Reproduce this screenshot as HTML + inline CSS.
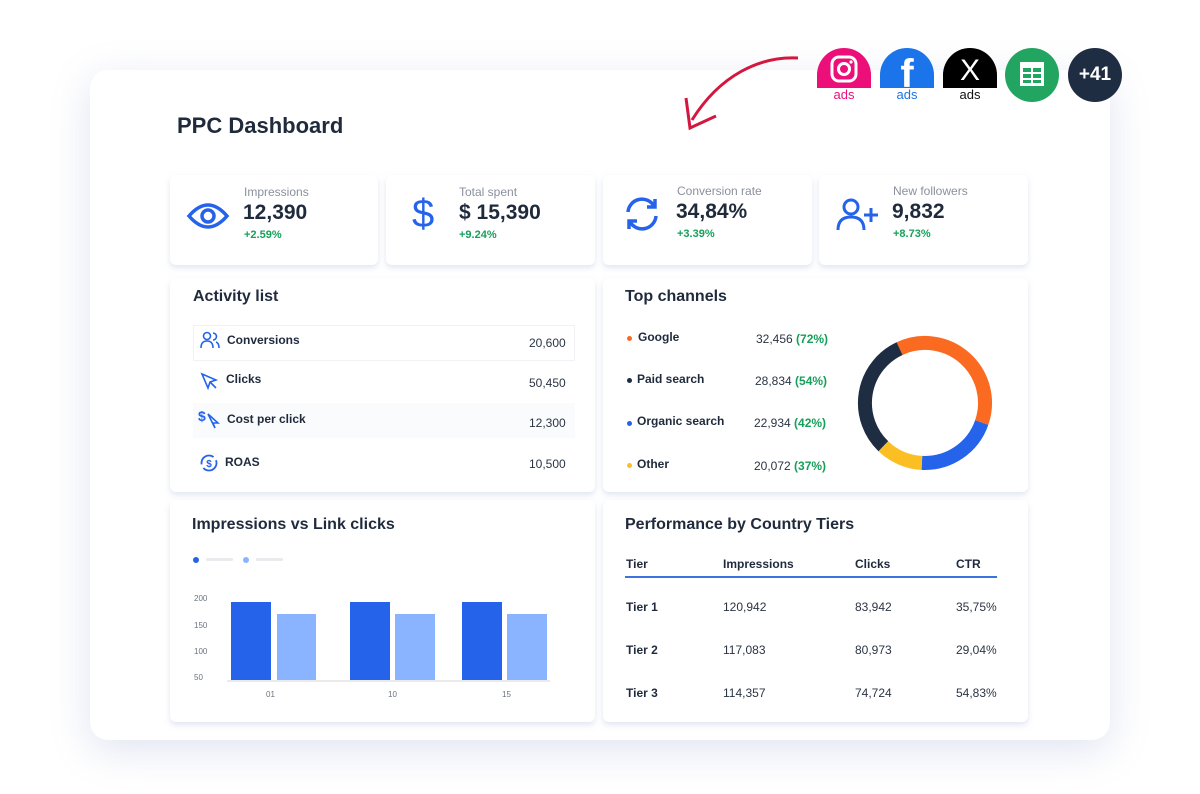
<!DOCTYPE html>
<html><head><meta charset="utf-8"><style>
*{margin:0;padding:0;box-sizing:border-box}
body{width:1200px;height:794px;background:#fff;font-family:"Liberation Sans",Arial,sans-serif;position:relative;overflow:hidden;color:#1f2a3c}
.abs{position:absolute}
.panel{position:absolute;left:90px;top:70px;width:1020px;height:670px;background:#fff;border-radius:18px;box-shadow:0 10px 40px rgba(120,130,190,.22)}
.card{position:absolute;background:#fff;border-radius:6px;box-shadow:0 3px 6px rgba(200,210,230,.55)}
.lbl{font-size:12px;color:#8a909c}
.val{font-size:21px;font-weight:bold;color:#1f2a3c}
.pct{font-size:11px;font-weight:bold;color:#16a05a}
.t{font-size:16px;font-weight:bold;color:#1f2a3c}
.b{font-size:12px;font-weight:bold;color:#1f2a3c}
.n{font-size:12px;color:#2b3444}
.g{color:#16a05a;font-weight:bold}
.ic{position:absolute;width:54px;height:54px;border-radius:50%;color:#fff;font-weight:bold;text-align:center}
</style></head><body>
<div class="panel"></div>
<!-- arrow -->
<svg class="abs" style="left:680px;top:50px" width="130" height="90"><path d="M118 8 C80 6 40 25 12 70" stroke="#d3173e" stroke-width="3" fill="none"/><path d="M6 48 L10 78 L36 66" stroke="#d3173e" stroke-width="3" fill="none"/></svg>
<!-- icons -->
<div class="ic" style="left:817px;top:48px;background:#ec0f7a;height:40px;border-radius:27px 27px 0 0"><svg width="54" height="40"><rect x="15" y="9" width="24" height="24" rx="7" stroke="#fff" stroke-width="3" fill="none"/><circle cx="27" cy="21" r="5.5" stroke="#fff" stroke-width="3" fill="none"/><circle cx="34" cy="14" r="1.6" fill="#fff"/></svg></div>
<div class="abs" style="left:817px;top:87px;width:54px;text-align:center;font-size:13px;color:#ec0f7a">ads</div>
<div class="ic" style="left:880px;top:48px;background:#1c74ea;height:40px;border-radius:27px 27px 0 0;font-size:40px;font-family:'Liberation Sans';line-height:52px">f</div>
<div class="abs" style="left:880px;top:87px;width:54px;text-align:center;font-size:13px;color:#1c74ea">ads</div>
<div class="ic" style="left:943px;top:48px;background:#000;height:40px;border-radius:27px 27px 0 0;font-size:30px;font-weight:normal;line-height:46px">X</div>
<div class="abs" style="left:943px;top:87px;width:54px;text-align:center;font-size:13px;color:#111">ads</div>
<div class="ic" style="left:1005px;top:48px;background:#22a560"><svg width="54" height="54"><rect x="15" y="14" width="24" height="24" fill="#fff"/><g fill="#22a560"><rect x="18" y="20" width="8" height="4"/><rect x="28" y="20" width="8" height="4"/><rect x="18" y="26" width="8" height="4"/><rect x="28" y="26" width="8" height="4"/><rect x="18" y="32" width="8" height="3"/><rect x="28" y="32" width="8" height="3"/></g></svg></div>
<div class="ic" style="left:1068px;top:48px;background:#1f2d42;font-size:19px;line-height:54px">+41</div>

<div class="abs" style="left:177px;top:113px;font-size:22px;font-weight:bold">PPC Dashboard</div>

<!-- KPI -->
<div class="card" style="left:170px;top:175px;width:208px;height:90px"></div>
<div class="card" style="left:386px;top:175px;width:209px;height:90px"></div>
<div class="card" style="left:603px;top:175px;width:209px;height:90px"></div>
<div class="card" style="left:819px;top:175px;width:209px;height:90px"></div>
<svg class="abs" style="left:186px;top:198px" width="44" height="36"><path d="M3 18 Q22 -4 41 18 Q22 40 3 18Z" stroke="#2563eb" stroke-width="3.5" fill="none"/><circle cx="22" cy="18" r="6" stroke="#2563eb" stroke-width="3.5" fill="none"/></svg>
<div class="abs" style="left:412px;top:192px;font-size:40px;color:#2563eb;font-weight:normal">$</div>
<svg class="abs" style="left:622px;top:194px" width="40" height="40"><path d="M6 18 A14 14 0 0 1 32 12" stroke="#2563eb" stroke-width="3.5" fill="none"/><path d="M34 22 A14 14 0 0 1 8 28" stroke="#2563eb" stroke-width="3.5" fill="none"/><path d="M33 5 V13 H25" stroke="#2563eb" stroke-width="3.5" fill="none"/><path d="M7 35 V27 H15" stroke="#2563eb" stroke-width="3.5" fill="none"/></svg>
<svg class="abs" style="left:836px;top:196px" width="44" height="38"><circle cx="15" cy="11" r="7" stroke="#2563eb" stroke-width="3" fill="none"/><path d="M2 34 Q2 21 15 21 Q28 21 28 34" stroke="#2563eb" stroke-width="3" fill="none"/><path d="M35 12 V26 M28 19 H42" stroke="#2563eb" stroke-width="3"/></svg>
<div class="abs lbl" style="left:244px;top:185px">Impressions</div><div class="abs val" style="left:243px;top:201px">12,390</div><div class="abs pct" style="left:244px;top:229px">+2.59%</div>
<div class="abs lbl" style="left:459px;top:185px">Total spent</div><div class="abs val" style="left:459px;top:201px">$ 15,390</div><div class="abs pct" style="left:459px;top:229px">+9.24%</div>
<div class="abs lbl" style="left:677px;top:184px">Conversion rate</div><div class="abs val" style="left:676px;top:200px">34,84%</div><div class="abs pct" style="left:677px;top:228px">+3.39%</div>
<div class="abs lbl" style="left:893px;top:184px">New followers</div><div class="abs val" style="left:892px;top:200px">9,832</div><div class="abs pct" style="left:893px;top:228px">+8.73%</div>

<!-- Activity -->
<div class="card" style="left:170px;top:278px;width:425px;height:214px"></div>
<div class="abs t" style="left:193px;top:288px">Activity list</div>
<div class="abs" style="left:193px;top:325px;width:382px;height:36px;border:1px solid #f0f2f5"></div>
<div class="abs" style="left:193px;top:403px;width:382px;height:35px;background:#fafbfc"></div>
<svg class="abs" style="left:199px;top:331px" width="22" height="18"><circle cx="8" cy="5" r="3.5" stroke="#2563eb" stroke-width="1.6" fill="none"/><path d="M2 17 Q2 10 8 10 Q14 10 14 17" stroke="#2563eb" stroke-width="1.6" fill="none"/><path d="M14 2 A3.5 3.5 0 0 1 14 9 M17 11 Q20 12 20 17" stroke="#2563eb" stroke-width="1.6" fill="none"/></svg>
<div class="abs b" style="left:227px;top:333px">Conversions</div><div class="abs n" style="left:529px;top:336px">20,600</div>
<svg class="abs" style="left:200px;top:372px" width="18" height="18"><path d="M2 2 L16 8 L10 10 L8 16Z M10 10 L16 16" stroke="#2563eb" stroke-width="1.6" fill="none"/></svg>
<div class="abs b" style="left:226px;top:372px">Clicks</div><div class="abs n" style="left:529px;top:376px">50,450</div>
<div class="abs" style="left:198px;top:408px;font-size:14px;font-weight:bold;color:#2563eb">$</div>
<svg class="abs" style="left:206px;top:412px" width="14" height="18"><path d="M2 2 L12 11 L7 11 L9 16 Z" stroke="#2563eb" stroke-width="1.6" fill="none"/></svg>
<div class="abs b" style="left:227px;top:412px">Cost per click</div><div class="abs n" style="left:529px;top:416px">12,300</div>
<svg class="abs" style="left:199px;top:453px" width="20" height="20"><circle cx="10" cy="10" r="7.5" stroke="#2563eb" stroke-width="1.8" fill="none" stroke-dasharray="18 4"/><text x="10" y="14" font-size="10" font-weight="bold" fill="#2563eb" text-anchor="middle" font-family="Liberation Sans">$</text></svg>
<div class="abs b" style="left:225px;top:455px">ROAS</div><div class="abs n" style="left:529px;top:457px">10,500</div>

<!-- Top channels -->
<div class="card" style="left:603px;top:278px;width:425px;height:214px"></div>
<div class="abs t" style="left:625px;top:288px">Top channels</div>
<div class="abs" style="left:627px;top:336px;width:5px;height:5px;border-radius:50%;background:#fa6a21"></div><div class="abs b" style="left:638px;top:330px">Google</div><div class="abs n" style="left:756px;top:332px">32,456 <span class="g">(72%)</span></div>
<div class="abs" style="left:627px;top:378px;width:5px;height:5px;border-radius:50%;background:#1f2d42"></div><div class="abs b" style="left:637px;top:372px">Paid search</div><div class="abs n" style="left:755px;top:374px">28,834 <span class="g">(54%)</span></div>
<div class="abs" style="left:627px;top:421px;width:5px;height:5px;border-radius:50%;background:#2563eb"></div><div class="abs b" style="left:637px;top:414px">Organic search</div><div class="abs n" style="left:754px;top:416px">22,934 <span class="g">(42%)</span></div>
<div class="abs" style="left:627px;top:463px;width:5px;height:5px;border-radius:50%;background:#fbbf24"></div><div class="abs b" style="left:637px;top:457px">Other</div><div class="abs n" style="left:754px;top:459px">20,072 <span class="g">(37%)</span></div>
<svg class="abs" style="left:0;top:0" width="1200" height="794">
<g fill="none" stroke-width="14">
<path d="M899.6 348.6 A60 60 0 0 1 981.7 422.6" stroke="#fa6a21"/>
<path d="M981.7 422.6 A60 60 0 0 1 921.9 462.9" stroke="#2563eb"/>
<path d="M921.9 462.9 A60 60 0 0 1 883.3 446.2" stroke="#fbbf24"/>
<path d="M883.3 446.2 A60 60 0 0 1 899.6 348.6" stroke="#1f2d42"/>
</g></svg>

<!-- Bar chart -->
<div class="card" style="left:170px;top:500px;width:425px;height:222px"></div>
<div class="abs t" style="left:192px;top:516px">Impressions vs Link clicks</div>
<svg class="abs" style="left:0;top:0" width="1200" height="794">
<circle cx="196" cy="560" r="3" fill="#2563eb"/><rect x="206" y="558" width="27" height="3" rx="1.5" fill="#e8eaee"/>
<circle cx="246" cy="560" r="3" fill="#8ab4ff"/><rect x="256" y="558" width="27" height="3" rx="1.5" fill="#e8eaee"/>
<g font-family="Liberation Sans" font-size="8" fill="#6b7280">
<text x="194" y="601">200</text><text x="194" y="628">150</text><text x="194" y="654">100</text><text x="194" y="680">50</text>
<text x="266" y="697">01</text><text x="388" y="697">10</text><text x="502" y="697">15</text></g>
<g fill="#2563eb"><rect x="231" y="602" width="40" height="78"/><rect x="350" y="602" width="40" height="78"/><rect x="462" y="602" width="40" height="78"/></g>
<g fill="#8ab4ff"><rect x="277" y="614" width="39" height="66"/><rect x="395" y="614" width="40" height="66"/><rect x="507" y="614" width="40" height="66"/></g>
<rect x="227" y="680" width="323" height="2" fill="#e8eaee"/>
</svg>

<!-- Table -->
<div class="card" style="left:603px;top:500px;width:425px;height:222px"></div>
<div class="abs t" style="left:625px;top:516px">Performance by Country Tiers</div>
<div class="abs b" style="left:626px;top:557px">Tier</div><div class="abs b" style="left:723px;top:557px">Impressions</div><div class="abs b" style="left:855px;top:557px">Clicks</div><div class="abs b" style="left:956px;top:557px">CTR</div>
<div class="abs" style="left:625px;top:576px;width:372px;height:2px;background:#3b74e0"></div>
<div class="abs b" style="left:626px;top:600px">Tier 1</div><div class="abs n" style="left:723px;top:600px">120,942</div><div class="abs n" style="left:855px;top:600px">83,942</div><div class="abs n" style="left:956px;top:600px">35,75%</div>
<div class="abs b" style="left:626px;top:643px">Tier 2</div><div class="abs n" style="left:723px;top:643px">117,083</div><div class="abs n" style="left:855px;top:643px">80,973</div><div class="abs n" style="left:956px;top:643px">29,04%</div>
<div class="abs b" style="left:626px;top:686px">Tier 3</div><div class="abs n" style="left:723px;top:686px">114,357</div><div class="abs n" style="left:855px;top:686px">74,724</div><div class="abs n" style="left:956px;top:686px">54,83%</div>
</body></html>
